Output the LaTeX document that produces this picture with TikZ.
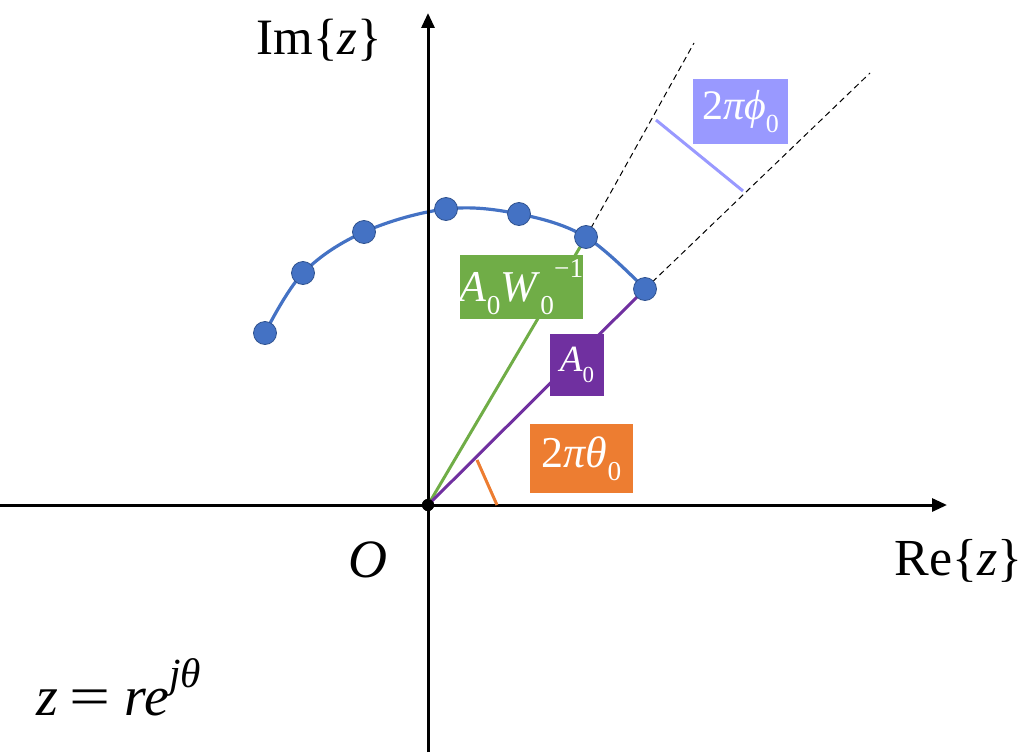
\documentclass[tikz,border=0pt]{standalone}
\usepackage{fontspec}
\setmainfont{Liberation Serif}
\usepackage{graphicx}
\usetikzlibrary{arrows.meta}
\definecolor{dotblue}{HTML}{4472C4}
\definecolor{dotedge}{HTML}{2F528F}
\definecolor{lgreen}{HTML}{70AD47}
\definecolor{lpurple}{HTML}{7030A0}
\definecolor{lorange}{HTML}{ED7D31}
\definecolor{llav}{HTML}{9999FF}
\newcommand\lsub[1]{\raisebox{-0.3em}{\scalebox{0.62}{#1}}}
\newcommand\lsup[1]{\raisebox{0.55em}{\scalebox{0.62}{#1}}}
\newcommand\bigfont{\fontsize{51}{53}\selectfont}
\begin{document}
\begin{tikzpicture}[x=1pt,y=-1pt,
  axis/.style={line width=3pt,-{Triangle[length=15pt,width=13pt]}},
  curve/.style={draw=dotblue,line width=3.2pt},
  dotnode/.style={circle,fill=dotblue,draw=dotedge,line width=0.8pt,minimum size=23pt,inner sep=0pt},
  ray/.style={line width=3pt},
  dashray/.style={draw=black,line width=1pt,dash pattern=on 6pt off 4pt},
  lblbox/.style={text=white,inner sep=0pt,font=\fontsize{44}{44}\selectfont},
  txt/.style={anchor=base west,font=\bigfont}]
\useasboundingbox (0,0) rectangle (1030,752);
% points
\coordinate (c1) at (265,333);
\coordinate (c2) at (303,273);
\coordinate (c3) at (364,232);
\coordinate (c4) at (446,209);
\coordinate (c5) at (519,214);
\coordinate (c6) at (586,237);
\coordinate (c7) at (645,289);
\coordinate (d1) at (694,43);
\coordinate (d2) at (870,73);
% curve
\draw[curve] plot[smooth,tension=0.6] coordinates {(c1) (c2) (c3) (c4) (c5) (c6) (c7)};
% axes
\coordinate (xl) at (0,505);
\coordinate (xr) at (947,505);
\coordinate (yb) at (428,752);
\coordinate (yt) at (428,13);
\draw[axis] (xl) -- (xr);
\draw[axis] (yb) -- (yt);
% dashed extensions
\draw[dashray] (c6) -- (d1);
\draw[dashray] (c7) -- (d2);
% rays
\node[circle,fill=black,minimum size=12pt,inner sep=0pt] (O) at (428,505) {};
\draw[ray,draw=lgreen] (O.center) -- (c6);
\draw[ray,draw=lpurple] (O.center) -- (c7);
\fill (O.center) circle (6pt);
% angle marks
\coordinate (t1) at (477,460);
\coordinate (t2) at (497,505);
\draw[ray,draw=lorange] (t1) -- (t2);
\coordinate (f1) at (656,120);
\coordinate (f2) at (743,191);
\draw[ray,draw=llav] (f1) -- (f2);
% dots
\foreach \i in {1,...,7} \node[dotnode] (p\i) at (c\i) {};
% labels
\node[lblbox,fill=lgreen,minimum width=121pt,minimum height=64pt] (lg) at (521.5,287)
  {\textit{A}\lsub{0}\textit{W}\lsub{0}\lsup{−1}};
\node[lblbox,fill=lpurple,minimum width=54pt,minimum height=62pt,font=\fontsize{37}{37}\selectfont] (lp) at (577,365)
  {\textit{A}\lsub{0}};
\node[lblbox,fill=lorange,minimum width=103pt,minimum height=69pt] (lo) at (581.5,458.5)
  {2\textit{πθ}\lsub{0}};
\node[lblbox,fill=llav,minimum width=95pt,minimum height=65pt,font=\fontsize{42}{42}\selectfont] (ll) at (740.5,111.5)
  {2\textit{πϕ}\lsub{0}};
% axis texts
\node[txt] (im) at (253,55) {Im\{\textit{z}\}};
\node[txt,font=\fontsize{52}{54}\selectfont] (re) at (891,575) {Re\{\textit{z}\}};
\node[txt,font=\fontsize{54}{56}\selectfont] (on) at (345,577) {\textit{O}};
\node[txt,font=\fontsize{56}{58}\selectfont] (eq) at (33,715)
  {\textit{z}\hspace{0.2em}\scalebox{1.3}[1]{=}\hspace{0.25em}\textit{re}\raisebox{0.5em}{\scalebox{0.74}{\textit{jθ}}}};
\end{tikzpicture}
\end{document}
